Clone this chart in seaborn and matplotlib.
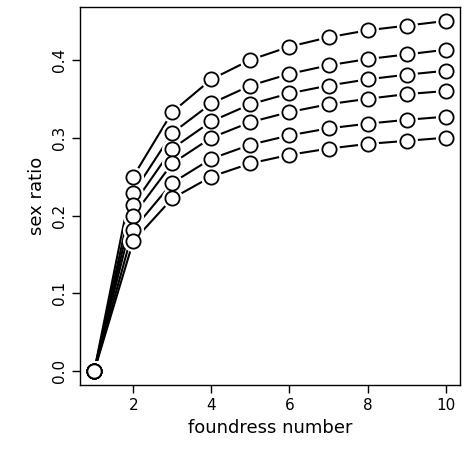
import numpy as np
import pandas as pd
import matplotlib
matplotlib.use('Agg')
import matplotlib.pyplot as plt
import seaborn as sns

# foundress number on x, sex ratio for six series
foundress = [1, 2, 3, 4, 5, 6, 7, 8, 9, 10]
s1 = [0, 0.250, 0.333, 0.375, 0.400, 0.417, 0.429, 0.438, 0.444, 0.450]
s2 = [0, 0.229, 0.306, 0.344, 0.367, 0.382, 0.393, 0.401, 0.407, 0.413]
s3 = [0, 0.214, 0.286, 0.321, 0.343, 0.357, 0.367, 0.375, 0.381, 0.386]
s4 = [0, 0.200, 0.267, 0.300, 0.320, 0.333, 0.343, 0.350, 0.356, 0.360]
s5 = [0, 0.182, 0.242, 0.273, 0.291, 0.303, 0.312, 0.318, 0.323, 0.327]
s6 = [0, 0.167, 0.222, 0.250, 0.267, 0.278, 0.286, 0.292, 0.296, 0.300]
series = [s1, s2, s3, s4, s5, s6]

df = pd.concat([pd.DataFrame({'n': foundress, 'sr': s, 'grp': i}) for i, s in enumerate(series)])

sns.set_style('white')
fig = plt.figure(figsize=(4.74, 4.63), dpi=100)
ax = fig.add_axes([0.169, 0.168, 0.801, 0.817])

sns.lineplot(data=df, x='n', y='sr', units='grp', estimator=None, color='black',
             lw=1.5, ax=ax, legend=False, zorder=1)
# white halo then open circles, mimicking R type="b" gaps
ax.scatter(df['n'], df['sr'], s=230, color='white', zorder=2, linewidths=0)
ax.scatter(df['n'], df['sr'], s=105, facecolor='white', edgecolor='black', linewidths=1.3, zorder=3)

ax.set_xlim(0.64, 10.36)
ax.set_ylim(-0.018, 0.468)
ax.set_xticks([2, 4, 6, 8, 10])
ax.set_yticks([0, 0.1, 0.2, 0.3, 0.4])
ax.set_yticklabels(['0.0', '0.1', '0.2', '0.3', '0.4'], rotation=90, va='center')
ax.tick_params(direction='out', length=6, width=1, labelsize=11, left=True, bottom=True,
               color='black', labelcolor='black')
for sp in ax.spines.values():
    sp.set_color('black')
    sp.set_linewidth(1)
ax.set_xlabel('foundress number', fontsize=13, color='black')
ax.set_ylabel('sex ratio', fontsize=13, color='black')

fig.savefig('out.png', dpi=100)
